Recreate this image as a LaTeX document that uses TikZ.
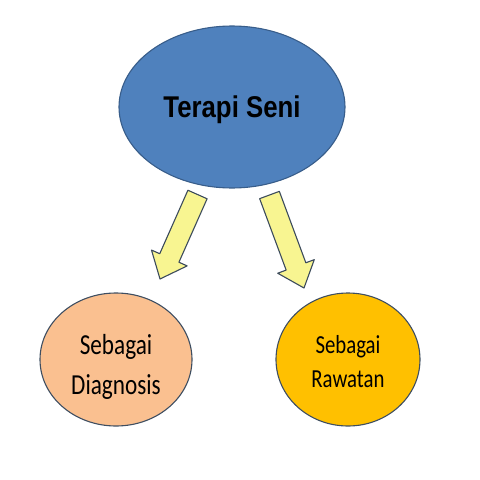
\documentclass[tikz,border=0pt]{standalone}
\usepackage{fontspec}
\newfontfamily\titlefont[FakeStretch=0.86]{Liberation Sans}
\newfontfamily\bodyfont[FakeStretch=0.8]{Carlito}
\usetikzlibrary{shapes,calc,positioning}
\definecolor{terapiblue}{HTML}{4F81BD}
\definecolor{terapiline}{HTML}{385D8A}
\definecolor{diagpeach}{HTML}{FAC090}
\definecolor{rawatangold}{HTML}{FFC000}
\definecolor{nodeline}{HTML}{3E4E61}
\definecolor{arrowfill}{HTML}{F8F591}
\definecolor{arrowline}{HTML}{3C4B5C}
\tikzset{
  bubble/.style = {ellipse, draw=nodeline, line width=1.1pt, inner sep=0pt},
  lbl/.style = {align=center, inner sep=0pt},
  blockarrow/.style = {draw=arrowline, fill=arrowfill, line width=1.1pt, line join=round,
    to path={($(\tikztostart)!10.5pt!90:(\tikztotarget)$)
      -- ($(\tikztotarget)!23pt!(\tikztostart)!10.5pt!90:(\tikztotarget)$)
      -- ($(\tikztotarget)!23pt!(\tikztostart)!19.5pt!90:(\tikztotarget)$)
      -- (\tikztotarget)
      -- ($(\tikztotarget)!23pt!(\tikztostart)!19.5pt!-90:(\tikztotarget)$)
      -- ($(\tikztotarget)!23pt!(\tikztostart)!10.5pt!-90:(\tikztotarget)$)
      -- ($(\tikztostart)!10.5pt!-90:(\tikztotarget)$) -- cycle}},
}

\begin{document}
\begin{tikzpicture}[x=1pt,y=-1pt]
      \useasboundingbox (0,0) rectangle (480,480);
      % the three bubbles
      \node[bubble, fill=terapiblue, draw=terapiline, minimum width=226pt, minimum height=162pt] (terapi) at (232,107) {};
      \node[bubble, fill=diagpeach, minimum width=152pt, minimum height=133pt] (diag) at (116,359.5) {};
      \node[bubble, fill=rawatangold, minimum width=144pt, minimum height=133pt] (rawat) at (348,359.5) {};

      \node[lbl, font=\titlefont\bfseries\fontsize{30}{36}\selectfont] (terapitxt) at ([yshift=-2.4pt]terapi.center) {Terapi Seni};
      \node[lbl, font=\bodyfont\fontsize{29}{40}\selectfont] (diagtxt) at ([yshift=-7pt]diag.center) {Sebagai\\Diagnosis};
      \node[lbl, font=\bodyfont\fontsize{26}{34}\selectfont] (rawattxt) at ([yshift=-2.4pt]rawat.center) {Sebagai\\Rawatan};

      % block arrows
      \coordinate (ldtop) at (197.5,194.5);
      \coordinate (ldtip) at (160,279);
      \coordinate (rwtop) at (269.5,195);
      \coordinate (rwtip) at (304,288);
      \path (ldtop) edge[blockarrow] (ldtip);
      \path (rwtop) edge[blockarrow] (rwtip);
\end{tikzpicture}
\end{document}
